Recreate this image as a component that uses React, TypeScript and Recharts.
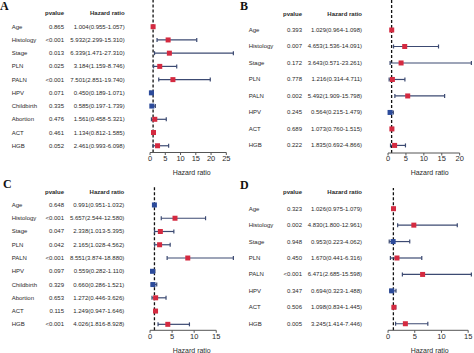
import React from 'react';
import { ScatterChart, Scatter, XAxis, YAxis, ErrorBar, ReferenceLine } from 'recharts';

// ---------- Panel A ----------
const labelsA = ['Age', 'Histology', 'Stage', 'PLN', 'PALN', 'HPV', 'Childbirth', 'Abortion', 'ACT', 'HGB'];
const pvalA = ['0.865', '<0.001', '0.013', '0.025', '<0.001', '0.071', '0.335', '0.476', '0.461', '0.052'];
const hrA = [1.004, 5.932, 6.339, 3.184, 7.501, 0.45, 0.585, 1.561, 1.134, 2.461];
const loA = [0.955, 2.299, 1.471, 1.159, 2.851, 0.189, 0.197, 0.458, 0.812, 0.993];
const hiA = [1.057, 15.31, 27.31, 8.746, 19.74, 1.071, 1.739, 5.321, 1.585, 6.098];
const ticksA = [0, 5, 10, 15, 20, 25];

// ---------- Panel B ----------
const labelsB = ['Age', 'Histology', 'Stage', 'PLN', 'PALN', 'HPV', 'ACT', 'HGB'];
const pvalB = ['0.393', '0.007', '0.172', '0.778', '0.002', '0.245', '0.689', '0.222'];
const hrB = [1.029, 4.653, 3.643, 1.216, 5.492, 0.564, 1.073, 1.835];
const loB = [0.964, 1.536, 0.571, 0.314, 1.909, 0.215, 0.76, 0.692];
const hiB = [1.098, 14.091, 23.261, 4.711, 15.798, 1.479, 1.515, 4.866];
const ticksB = [0, 5, 10, 15, 20];

// ---------- Panel C ----------
const labelsC = ['Age', 'Histology', 'Stage', 'PLN', 'PALN', 'HPV', 'Childbirth', 'Abortion', 'ACT', 'HGB'];
const pvalC = ['0.648', '<0.001', '0.047', '0.042', '<0.001', '0.097', '0.329', '0.653', '0.115', '<0.001'];
const hrC = [0.991, 5.657, 2.338, 2.165, 8.551, 0.559, 0.66, 1.272, 1.249, 4.026];
const loC = [0.951, 2.544, 1.013, 1.028, 3.874, 0.282, 0.286, 0.446, 0.947, 1.816];
const hiC = [1.032, 12.58, 5.395, 4.562, 18.88, 1.11, 1.521, 3.626, 1.646, 8.928];
const ticksC = [0, 5, 10, 15];

// ---------- Panel D ----------
const labelsD = ['Age', 'Histology', 'Stage', 'PLN', 'PALN', 'HPV', 'ACT', 'HGB'];
const pvalD = ['0.323', '0.002', '0.948', '0.450', '<0.001', '0.347', '0.506', '0.005'];
const hrD = [1.026, 4.83, 0.953, 1.67, 6.471, 0.694, 1.098, 3.245];
const loD = [0.975, 1.8, 0.223, 0.441, 2.685, 0.323, 0.834, 1.414];
const hiD = [1.079, 12.961, 4.062, 6.316, 15.598, 1.488, 1.445, 7.446];
const ticksD = [0, 5, 10, 15];

const RED = '#D42A40';
const BLUE = '#2C4B9B';
const WHISKER = '#3C4A72';
const TEXT = '#2a2a2a';
const FONT = '"Liberation Sans", Arial, Helvetica, sans-serif';
const SERIF = '"Liberation Serif", "Times New Roman", serif';
const SQ = 5;

type PanelProps = {
  letter: string;
  labels: string[];
  pvals: string[];
  hr: number[];
  lo: number[];
  hi: number[];
  xTicks: number[];
  left: number;
  top: number;
  height: number;
  plotLeft: number;
  plotTop: number;
  plotBottom: number;
  yMin: number;
  yMax: number;
  pvalX: number;
  hrX: number;
  titleOffset: number;
  letterX: number;
  letterTop: number;
};

const W = 240;
const PLOT_W = 90;

function fmt(v: number) {
  return v.toFixed(3);
}

const squareShape = (sp: any) => {
  const cx = sp.cx as number;
  const cy = sp.cy as number;
  const v = sp.payload ? sp.payload.x : sp.x;
  return (
    <rect x={cx - SQ / 2} y={cy - SQ / 2} width={SQ} height={SQ} fill={v > 1 ? RED : BLUE} />
  );
};

function Panel(p: PanelProps) {
  const maxHi = Math.max(...p.hi);
  const domain = [-0.04 * maxHi, 1.04 * maxHi];
  const data = p.hr.map((v, i) => ({ x: v, y: i, err: [v - p.lo[i], p.hi[i] - v] }));
  const yTicks = [-1, ...p.labels.map((_, i) => i)];
  const txt = { fontSize: 6, fontFamily: FONT, fill: TEXT, dominantBaseline: 'central' as const };

  const renderTick = (tp: any) => {
    const v = tp.payload.value;
    const y = tp.y;
    if (v === -1) {
      return (
        <g>
          <text x={p.pvalX} y={y} textAnchor="end" fontWeight="bold" {...txt}>pvalue</text>
          <text x={p.hrX} y={y} textAnchor="end" fontWeight="bold" {...txt}>Hazard ratio</text>
        </g>
      );
    }
    const i = v as number;
    return (
      <g>
        <text x={11.7} y={y} textAnchor="start" {...txt}>{p.labels[i]}</text>
        <text x={p.pvalX} y={y} textAnchor="end" {...txt}>{p.pvals[i]}</text>
        <text x={p.hrX} y={y} textAnchor="end" {...txt}>
          {`${fmt(p.hr[i])}(${fmt(p.lo[i])}-${fmt(p.hi[i])})`}
        </text>
      </g>
    );
  };

  const lastTick = p.xTicks[p.xTicks.length - 1];

  return (
    <div style={{ position: 'absolute', left: p.left, top: p.top, width: W, height: p.height }}>
      <ScatterChart
        width={W}
        height={p.height}
        margin={{ top: p.plotTop, right: W - p.plotLeft - PLOT_W, bottom: 0, left: 0 }}
      >
        <XAxis
          type="number"
          dataKey="x"
          domain={domain}
          ticks={p.xTicks}
          interval={0}
          axisLine={false}
          tickLine={{ stroke: '#555', strokeWidth: 1 }}
          tickSize={2.5}
          tickMargin={0.5}
          tick={{ fontSize: 7.5, fill: TEXT, fontFamily: FONT }}
          height={p.height - p.plotBottom}
          label={{
            value: 'Hazard ratio',
            position: 'insideBottom',
            offset: p.titleOffset,
            fontSize: 7,
            fill: TEXT,
            fontFamily: FONT,
          }}
        />
        <YAxis
          type="number"
          dataKey="y"
          domain={[p.yMin, p.yMax]}
          reversed
          ticks={yTicks}
          interval={0}
          width={p.plotLeft}
          axisLine={false}
          tickLine={false}
          tick={renderTick}
        />
        <ReferenceLine x={1} stroke="#111" strokeDasharray="3 2" strokeWidth={1.3} zIndex={100} />
        <ReferenceLine
          segment={[
            { x: 0, y: p.yMax },
            { x: lastTick, y: p.yMax },
          ]}
          stroke="#555"
          strokeWidth={1}
          ifOverflow="visible"
        />
        <Scatter data={data} shape={squareShape} isAnimationActive={false} zIndex={700}>
          <ErrorBar dataKey="err" direction="x" width={2} stroke={WHISKER} strokeWidth={1.2} isAnimationActive={false} />
        </Scatter>
      </ScatterChart>
      <div
        style={{
          position: 'absolute',
          left: p.letterX,
          top: p.letterTop,
          fontFamily: SERIF,
          fontWeight: 'bold',
          fontSize: 12,
          lineHeight: '12px',
          color: '#111',
        }}
      >
        {p.letter}
      </div>
    </div>
  );
}

export default function App() {
  return (
    <div
      style={{
        position: 'absolute',
        left: 0,
        top: 0,
        width: 474,
        height: 353,
        overflow: 'hidden',
        background: '#fff',
      }}
    >
      <Panel
        letter="A"
        labels={labelsA}
        pvals={pvalA}
        hr={hrA}
        lo={loA}
        hi={hiA}
        xTicks={ticksA}
        left={0}
        top={0}
        height={176}
        plotLeft={146.7}
        plotTop={0}
        plotBottom={152.5}
        yMin={-2.02}
        yMax={9.51}
        pvalX={64}
        hrX={124.7}
        titleOffset={1.3}
        letterX={0}
        letterTop={0}
      />
      <Panel
        letter="B"
        labels={labelsB}
        pvals={pvalB}
        hr={hrB}
        lo={loB}
        hi={hiB}
        xTicks={ticksB}
        left={237}
        top={0}
        height={176}
        plotLeft={147.7}
        plotTop={0}
        plotBottom={153}
        yMin={-1.82}
        yMax={7.46}
        pvalX={65}
        hrX={125}
        titleOffset={1.3}
        letterX={3}
        letterTop={-0.5}
      />
      <Panel
        letter="C"
        labels={labelsC}
        pvals={pvalC}
        hr={hrC}
        lo={loC}
        hi={hiC}
        xTicks={ticksC}
        left={0}
        top={176}
        height={177}
        plotLeft={146.7}
        plotTop={10}
        plotBottom={154.3}
        yMin={-1.43}
        yMax={9.45}
        pvalX={64}
        hrX={124.3}
        titleOffset={0.2}
        letterX={3}
        letterTop={2}
      />
      <Panel
        letter="D"
        labels={labelsD}
        pvals={pvalD}
        hr={hrD}
        lo={loD}
        hi={hiD}
        xTicks={ticksD}
        left={237}
        top={176}
        height={177}
        plotLeft={147.7}
        plotTop={12}
        plotBottom={154.3}
        yMin={-1.26}
        yMax={7.4}
        pvalX={65}
        hrX={125}
        titleOffset={0.2}
        letterX={3}
        letterTop={3}
      />
    </div>
  );
}
